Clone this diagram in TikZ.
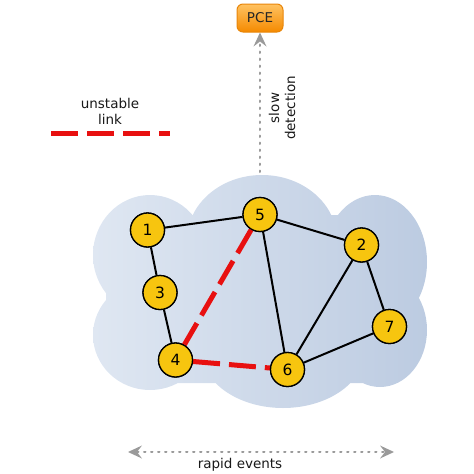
\documentclass[tikz,border=0pt]{standalone}
\usepackage{fontspec}
\setmainfont{DejaVu Sans}
\usetikzlibrary{arrows.meta}
\definecolor{nodeyellow}{HTML}{F7C50F}
\definecolor{linkred}{HTML}{E81010}
\definecolor{cloudL}{HTML}{DFE7F2}
\definecolor{cloudR}{HTML}{BCCBE1}
\definecolor{arrowgray}{HTML}{9A9A9A}
\definecolor{pceTop}{HTML}{FFC261}
\definecolor{pceBot}{HTML}{F58A00}
\definecolor{pceBorder}{HTML}{E8860A}
\tikzset{
  netnode/.style={circle, draw=black, line width=1.3pt, fill=nodeyellow, minimum size=34pt, inner sep=0pt, font=\fontsize{15.5}{17}\selectfont},
  solidlink/.style={draw=black, line width=2pt},
  unstable/.style={draw=linkred, line width=5pt, dash pattern=on 27pt off 9pt},
  dotarrow/.style={draw=arrowgray, line width=2pt, dash pattern=on 1.5pt off 5.5pt, line cap=round},
  lbl/.style={font=\fontsize{13.5}{16}\selectfont, align=center, text=black!90},
  pcebox/.style={draw=pceBorder, line width=1pt, rounded corners=6pt, top color=pceTop, bottom color=pceBot, minimum width=46pt, minimum height=28pt, inner sep=0pt, font=\fontsize{13.5}{16}\selectfont, text=black!85}
}
\begin{document}
\begin{tikzpicture}[x=1pt,y=-1pt,
  ghead/.tip={Stealth[length=14pt,width=13pt,inset=5pt,fill=arrowgray,color=arrowgray,line width=0pt]}]
\useasboundingbox (0,0) rectangle (474,474);
% cloud
\shade[left color=cloudL, right color=cloudR]
  (150,255) ellipse [x radius=57, y radius=60]
  (262,240) ellipse [x radius=75, y radius=65]
  (375,262) ellipse [x radius=52, y radius=67]
  (380,330) ellipse [x radius=47, y radius=57]
  (283,350) ellipse [x radius=82, y radius=58]
  (150,335) ellipse [x radius=57, y radius=55]
  [rounded corners=40pt] (106,383) rectangle (417,215);
% nodes
\node[netnode] (n1) at (147.5,230) {1};
\node[netnode] (n5) at (260,214.5) {5};
\node[netnode] (n2) at (361.5,245) {2};
\node[netnode] (n3) at (160,292.5) {3};
\node[netnode] (n4) at (175.5,360) {4};
\node[netnode] (n6) at (287.5,369.5) {6};
\node[netnode] (n7) at (389.5,326.5) {7};
% links
\path[solidlink] (n1) -- (n5);
\path[solidlink] (n5) -- (n2);
\path[solidlink] (n1) -- (n3);
\path[solidlink] (n3) -- (n4);
\path[solidlink] (n5) -- (n6);
\path[solidlink] (n2) -- (n6);
\path[solidlink] (n2) -- (n7);
\path[solidlink] (n7) -- (n6);
\path[unstable] (n5) -- (n4);
\path[unstable] (n4) -- (n6);
% redraw nodes on top
\node[netnode] at (n1) {1};
\node[netnode] at (n5) {5};
\node[netnode] at (n2) {2};
\node[netnode] at (n3) {3};
\node[netnode] at (n4) {4};
\node[netnode] at (n6) {6};
\node[netnode] at (n7) {7};
% PCE
\node[pcebox] (pce) at (260,18) {PCE};
\coordinate (cloudtop) at (260,172);
\draw[dotarrow, -ghead] (cloudtop) -- (pce.south);
\node[lbl, rotate=90] (slow) at (282,108) {slow\\detection};
% legend
\node[lbl] (leg) at (110,111) {unstable\\link};
\coordinate (legA) at (51,133);
\coordinate (legB) at (170,133);
\path[unstable] (legA) -- (legB);
% rapid events
\coordinate (rL) at (128,452);
\coordinate (rR) at (394,452);
\draw[dotarrow, ghead-ghead] (rL) -- (rR);
\node[lbl] (rapid) at (240,465) {rapid events};
\end{tikzpicture}
\end{document}
